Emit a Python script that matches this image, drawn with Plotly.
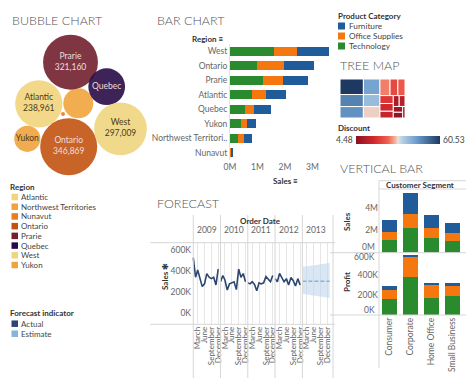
import plotly.graph_objects as go

# The page body has an 8px margin, so the figure is drawn 8px in from the
# top-left corner; all layout positions below are given in window pixels.
OFF = 8
W, H = 474 - OFF, 392 - OFF
FONT = "Lato"
GRAY = "#666666"
DARK = "#333333"
LINE = "#d6d6d6"


def X(px):
    return (px - OFF) / W


def Y(py):
    return 1 - (py - OFF) / H


# ---------------- DATA ----------------
# Bubble chart (profit by region)
regions = ["Atlantic", "Northwest Territories", "Nunavut", "Ontario",
           "Prarie", "Quebec", "West", "Yukon"]
region_profit = [238961, 96000, 1700, 346869, 321160, 144000, 297009, 73000]
region_colors = ["#f1d47b", "#f1a43d", "#ee7a1e", "#c2530f",
                 "#72202e", "#280b45", "#f0d57e", "#eea33c"]

# Bar chart (sales by region, millions)
bar_regions = ["West", "Ontario", "Prarie", "Atlantic", "Quebec", "Yukon",
               "Northwest Territories", "Nunavut"]
bar_tick_text = ["West", "Ontario", "Prarie", "Atlantic", "Quebec", "Yukon",
                 "Northwest Territori..", "Nunavut"]
sales_technology = [1.60, 1.00, 1.19, 0.80, 0.55, 0.40, 0.28, 0.03]
sales_office = [0.84, 0.95, 0.73, 0.51, 0.34, 0.22, 0.22, 0.02]
sales_furniture = [1.16, 1.10, 0.92, 0.71, 0.60, 0.33, 0.29, 0.03]
sales_ticks = [0, 1, 2, 3]
sales_tick_text = ["0M", "1M", "2M", "3M"]

categories = ["Furniture", "Office Supplies", "Technology"]
cat_colors = {"Furniture": "#1f5c99", "Office Supplies": "#f5770f",
              "Technology": "#2a8a2e"}

# Tree map (sales size, discount colour) by sub-category
sub_categories = ["Office Machines", "Tables", "Chairs & Chairmats",
                  "Telephones and Communication", "Copiers and Fax",
                  "Binders and Binder Accessories", "Storage & Organization",
                  "Computer Peripherals", "Bookcases", "Appliances",
                  "Office Furnishings", "Paper", "Envelopes",
                  "Pens & Art Supplies", "Labels",
                  "Scissors, Rulers and Trimmers", "Rubber Bands"]
sub_sales = [3400, 2630, 2500, 2400, 1860, 1760, 1570, 1210, 1110, 990,
             970, 840, 600, 590, 510, 500, 250]
sub_discount = [60.53, 49.0, 46.5, 43.5, 39.0, 31.8, 27.5, 22.0, 24.5, 19.0,
                16.0, 14.0, 10.0, 12.0, 8.0, 6.5, 4.48]

# Forecast (monthly sales, K)
years = [2009, 2010, 2011, 2012]
sales_2009 = [530, 343, 412, 330, 254, 280, 378, 343, 330, 343, 270, 420]
sales_2010 = [300, 360, 317, 222, 280, 290, 300, 225, 420, 343, 378, 300]
sales_2011 = [290, 280, 300, 275, 215, 290, 280, 290, 350, 330, 300, 360]
sales_2012 = [330, 300, 380, 340, 300, 330, 270, 340, 310, 260, 330, 270]
forecast_months = ["2013-01-01", "2013-02-01", "2013-03-01", "2013-04-01",
                   "2013-05-01", "2013-06-01", "2013-07-01", "2013-08-01",
                   "2013-09-01", "2013-10-01", "2013-11-01", "2013-12-01",
                   "2014-01-01"]
forecast_est = [305, 305, 305, 305, 305, 305, 305, 305, 305, 305, 305, 305, 305]
forecast_upper = [440, 444, 448, 451, 455, 458, 461, 465, 468, 471, 474, 477, 480]
forecast_lower = [185, 182, 178, 175, 172, 168, 165, 162, 158, 155, 152, 148, 145]
header_years = ["2009", "2010", "2011", "2012", "2013"]
fc_ticks = [0, 200, 400, 600]
fc_tick_text = ["0K", "200K", "400K", "600K"]

# Vertical bar (customer segment)
segments = ["Consumer", "Corporate", "Home Office", "Small Business"]
seg_sales_technology = [1.15, 2.20, 1.30, 1.06]
seg_sales_office = [0.69, 1.31, 0.88, 0.75]
seg_sales_furniture = [1.13, 1.88, 1.25, 0.85]
seg_profit_technology = [160, 377, 173, 187]
seg_profit_office = [90, 200, 127, 103]
seg_profit_furniture = [40, 23, 23, 30]
seg_sales_ticks = [2, 4]
seg_sales_tick_text = ["2M", "4M"]
seg_profit_ticks = [200, 400]
seg_profit_tick_text = ["200K", "400K"]

forecast_legend = ["Actual", "Estimate"]
forecast_colors = ["#2c4670", "#86b4da"]

# ---------------- LAYOUT (pixel positions of packed bubbles) -------------
bubble_layout_x = [38.8, 78.3, 63.0, 68.7, 70.5, 106.7, 120.5, 27.3]
bubble_layout_y = [103.8, 103.3, 114.0, 146.7, 62.2, 86.7, 128.8, 138.8]

fig = go.Figure()

# ---------------- BUBBLE CHART ----------------
diam = [0.0968 * v ** 0.5 for v in region_profit]
labels = []
label_colors = []
for name, v in zip(regions, region_profit):
    if v > 200000:
        labels.append(f"{name}<br>{v:,}")
    elif v > 60000 and name != "Northwest Territories":
        labels.append(name)
    else:
        labels.append("")
    label_colors.append("#f2dcdc" if name in ("Prarie", "Quebec", "Ontario")
                        else "#4b3b1c")

fig.add_trace(go.Scatter(
    x=bubble_layout_x, y=bubble_layout_y, mode="markers+text",
    text=labels, textposition="middle center",
    textfont=dict(family=FONT, size=8.5, color=label_colors),
    marker=dict(size=diam, sizemode="diameter", color=region_colors,
                opacity=0.9, line=dict(width=0)),
    xaxis="x", yaxis="y", hoverinfo="skip", showlegend=False))

# ---------------- BAR CHART ----------------
for cat, vals in [("Technology", sales_technology),
                  ("Office Supplies", sales_office),
                  ("Furniture", sales_furniture)]:
    fig.add_trace(go.Bar(y=bar_regions, x=vals, orientation="h",
                         marker=dict(color=cat_colors[cat], line=dict(width=0)),
                         width=0.62, xaxis="x2", yaxis="y2",
                         showlegend=False, hoverinfo="skip"))

# ---------------- TREE MAP ----------------
cscale = [[0, "#8c0f22"], [0.22, "#d52a2e"], [0.38, "#f0614f"],
          [0.47, "#f5b59f"], [0.5, "#e9e2dd"], [0.55, "#b3cfe6"],
          [0.72, "#6b9dcd"], [1, "#1d3961"]]
fig.add_trace(go.Treemap(
    labels=sub_categories, parents=[""] * len(sub_categories),
    values=sub_sales, sort=True, textinfo="none", hoverinfo="skip",
    marker=dict(colors=sub_discount, colorscale=cscale,
                cmin=min(sub_discount), cmax=max(sub_discount),
                line=dict(color="white", width=1),
                pad=dict(t=0, l=0, r=0, b=0),
                showscale=True,
                colorbar=dict(orientation="h", x=X(356), xanchor="left",
                              y=Y(136), yanchor="top", len=84,
                              lenmode="pixels", thickness=8, outlinewidth=0,
                              showticklabels=False, ticks="", xpad=0, ypad=0)),
    tiling=dict(packing="squarify", squarifyratio=1.618, pad=0),
    pathbar=dict(visible=False),
    domain=dict(x=[X(340), X(405)], y=[Y(118), Y(79)])))

# ---------------- FORECAST ----------------
act_x, act_y = [], []
for yr, vals in zip(years, [sales_2009, sales_2010, sales_2011, sales_2012]):
    for m, v in enumerate(vals):
        act_x.append(f"{yr}-{m + 1:02d}-01")
        act_y.append(v)
    act_x.append(f"{yr}-12-20")
    act_y.append(None)

fig.add_trace(go.Scatter(x=forecast_months, y=forecast_lower, mode="lines",
                         line=dict(width=0), xaxis="x3", yaxis="y3",
                         showlegend=False, hoverinfo="skip"))
fig.add_trace(go.Scatter(x=forecast_months, y=forecast_upper, mode="lines",
                         line=dict(width=0), fill="tonexty",
                         fillcolor="rgba(190,215,235,0.6)",
                         xaxis="x3", yaxis="y3", showlegend=False,
                         hoverinfo="skip"))
fig.add_trace(go.Scatter(x=forecast_months, y=forecast_est, mode="lines",
                         line=dict(color=forecast_colors[1], width=1.3,
                                   dash="4px,2px"),
                         xaxis="x3", yaxis="y3", showlegend=False,
                         hoverinfo="skip"))
fig.add_trace(go.Scatter(x=act_x, y=act_y, mode="lines",
                         line=dict(color=forecast_colors[0], width=1.6),
                         connectgaps=False, xaxis="x3", yaxis="y3",
                         showlegend=False, hoverinfo="skip"))

# ---------------- VERTICAL BAR ----------------
for cat, sv, pv in [("Technology", seg_sales_technology, seg_profit_technology),
                    ("Office Supplies", seg_sales_office, seg_profit_office),
                    ("Furniture", seg_sales_furniture, seg_profit_furniture)]:
    fig.add_trace(go.Bar(x=segments, y=sv, marker=dict(color=cat_colors[cat],
                                                       line=dict(width=0)),
                         width=0.74, xaxis="x4", yaxis="y4",
                         showlegend=False, hoverinfo="skip"))
    fig.add_trace(go.Bar(x=segments, y=pv, marker=dict(color=cat_colors[cat],
                                                       line=dict(width=0)),
                         width=0.74, xaxis="x5", yaxis="y5",
                         showlegend=False, hoverinfo="skip"))

tick_font = dict(family=FONT, size=8.5, color=GRAY)

fig.update_layout(
    width=W, height=H,
    margin=dict(l=0, r=0, t=0, b=0, pad=0, autoexpand=False),
    paper_bgcolor="white", plot_bgcolor="rgba(0,0,0,0)",
    barmode="stack", showlegend=False,
    font=dict(family=FONT, color=DARK),
    # bubble
    xaxis=dict(domain=[0, X(160)], range=[OFF, 160], visible=False,
               fixedrange=True),
    yaxis=dict(domain=[Y(180), 1], range=[180, OFF], visible=False,
               fixedrange=True),
    # horizontal bar
    xaxis2=dict(domain=[X(230), X(335)], range=[0, 3.82], anchor="y2",
                tickvals=sales_ticks, ticktext=sales_tick_text,
                showgrid=False, automargin=False,
                zeroline=False, showline=False, tickfont=tick_font, ticks=""),
    yaxis2=dict(domain=[Y(160), Y(44)], anchor="x2", autorange="reversed",
                tickvals=bar_regions, ticktext=bar_tick_text, automargin=False,
                showgrid=False, zeroline=False, tickfont=tick_font, ticks="",
                showline=True, linecolor="#e3e3e3", linewidth=1),
    # forecast
    xaxis3=dict(domain=[X(192), X(333)], anchor="y3", type="date",
                range=["2008-12-15", "2014-02-15"], tick0="2009-03-01",
                dtick="M3", tickformat="%B", tickangle=-90, automargin=False,
                tickfont=dict(family=FONT, size=8, color=GRAY),
                showgrid=True, gridcolor="#e6e6e6", gridwidth=1,
                zeroline=False, showline=False, ticks=""),
    yaxis3=dict(domain=[Y(324.3), Y(242.7)], anchor="x3", range=[-105, 672],
                tickvals=fc_ticks, ticktext=fc_tick_text, showgrid=False,
                automargin=False,
                zeroline=False, tickfont=tick_font, ticks=""),
    # vertical bar, sales pane
    xaxis4=dict(domain=[X(379), X(463)], anchor="y4", showticklabels=False,
                showgrid=False, zeroline=False, ticks="", automargin=False),
    yaxis4=dict(domain=[Y(252.5), Y(189)], anchor="x4", range=[0, 5.75],
                tickvals=seg_sales_ticks, ticktext=seg_sales_tick_text,
                showgrid=False, automargin=False,
                zeroline=False, tickfont=tick_font, ticks=""),
    # vertical bar, profit pane
    xaxis5=dict(domain=[X(379), X(463)], anchor="y5", tickangle=-90,
                showgrid=False, zeroline=False, ticks="", tickfont=tick_font,
                automargin=False),
    yaxis5=dict(domain=[Y(315), Y(252.7)], anchor="x5", range=[0, 623],
                tickvals=seg_profit_ticks, ticktext=seg_profit_tick_text,
                showgrid=False, automargin=False,
                zeroline=False, tickfont=tick_font, ticks=""),
)


def txt(x, y, s, size=8.5, color=DARK, xanchor="left", angle=0, weight=None):
    f = dict(family=FONT, size=size, color=color)
    if weight is not None:
        f["weight"] = weight
    fig.add_annotation(x=X(x), y=Y(y), xref="paper", yref="paper", text=s,
                       showarrow=False, xanchor=xanchor, yanchor="middle",
                       textangle=angle, font=f, borderpad=0)


def hline(y, x0, x1, color=LINE):
    fig.add_shape(type="line", xref="paper", yref="paper", x0=X(x0), x1=X(x1),
                  y0=Y(y), y1=Y(y), line=dict(color=color, width=1))


def vline(x, y0, y1, color=LINE):
    fig.add_shape(type="line", xref="paper", yref="paper", x0=X(x), x1=X(x),
                  y0=Y(y0), y1=Y(y1), line=dict(color=color, width=1))


def swatch(x, y, color, s=7):
    fig.add_shape(type="rect", xref="paper", yref="paper",
                  x0=X(x), x1=X(x + s), y0=Y(y + s / 2), y1=Y(y - s / 2),
                  fillcolor=color, line=dict(width=0))


# titles
TITLE = dict(size=12.5, color="#555555", weight=300)
txt(11, 21, "BUBBLE CHART", **TITLE)
txt(156, 21, "BAR CHART", **TITLE)
txt(339, 65, "TREE MAP", **TITLE)
txt(156, 203, "FORECAST", **TITLE)
txt(339, 168, "VERTICAL BAR", **TITLE)

# bar chart headers
txt(191, 39, "<b>Region ≡</b>", size=8)
txt(285, 181, "<b>Sales ≡</b>", size=8, xanchor="center")

# product category legend
txt(337, 16, "<b>Product Category</b>", size=8)
for i, cat in enumerate(categories):
    swatch(338, 26 + 10 * i, cat_colors[cat])
    txt(348, 26 + 10 * i, cat, size=8.2, color="#444444")

# discount colour legend
txt(337, 128, "<b>Discount</b>", size=8)
txt(354, 140, f"{min(sub_discount):.2f}", size=8.5, color="#444444",
    xanchor="right")
txt(442, 140, f"{max(sub_discount):.2f}", size=8.5, color="#444444")

# region legend
txt(9, 187, "<b>Region</b>", size=8)
for i, (r, c) in enumerate(zip(regions, region_colors)):
    swatch(11.5, 197 + 9.72 * i, c, s=6.5)
    txt(20, 197 + 9.72 * i, r, size=8, color="#444444")

# forecast legend
txt(9, 313, "<b>Forecast indicator</b>", size=8)
for i, (lab, c) in enumerate(zip(forecast_legend, forecast_colors)):
    swatch(11.5, 323.7 + 10 * i, c, s=6.5)
    txt(20, 323.7 + 10 * i, lab, size=8, color="#444444")

# forecast headers
txt(260, 221, "<b>Order Date</b>", size=8, xanchor="center")
for yr in header_years:
    fig.add_annotation(x=f"{yr}-07-01", y=Y(230), xref="x3", yref="paper",
                       text=yr, showarrow=False, xanchor="center",
                       yanchor="middle",
                       font=dict(family=FONT, size=8.5, color=GRAY))
    fig.add_shape(type="line", xref="x3", yref="paper", x0=f"{yr}-01-01",
                  x1=f"{yr}-01-01", y0=Y(215), y1=Y(378),
                  line=dict(color=LINE, width=1))
txt(165, 277, "<b>Sales ✻</b>", size=8, xanchor="center", angle=-90)
hline(242.7, 150, 335)
hline(324.3, 150, 335)
vline(333, 215, 378)

# vertical bar frame / headers
txt(420, 185, "<b>Customer Segment</b>", size=8, xanchor="center")
hline(180.7, 379, 473)
hline(189, 379, 473)
hline(252.7, 330, 473)
hline(315, 330, 473)
vline(379, 180.7, 368)
txt(347, 222, "<b>Sales</b>", size=8, xanchor="center", angle=-90)
txt(347, 282, "<b>Profit</b>", size=8, xanchor="center", angle=-90)
txt(375.5, 246.5, "0M", size=8.5, color=GRAY, xanchor="right")
txt(375.5, 257, "600K", size=8.5, color=GRAY, xanchor="right")
txt(375.5, 309.5, "0K", size=8.5, color=GRAY, xanchor="right")

fig.write_html("out.html")
